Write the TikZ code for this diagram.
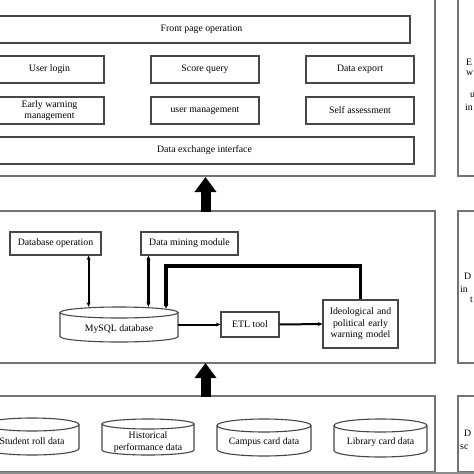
\documentclass[tikz,border=0pt]{standalone}
\usepackage{fontspec}
\setmainfont{Liberation Serif}
\usetikzlibrary{arrows.meta}
\newcommand\dfont{\fontsize{9.8}{11.5}\selectfont}
\newcommand\dbcyl[5]{% cx, ytop, ybot, rx, ry
  \draw[cylline] (#1-#4, #2+#5) -- (#1-#4, #3-#5) arc[start angle=180,end angle=360,x radius=#4pt,y radius=#5pt] -- (#1+#4, #2+#5);
  \draw[cylline] (#1, #2+#5) ellipse [x radius=#4pt, y radius=#5pt];
}
\begin{document}
\begin{tikzpicture}[x=1pt,y=-1pt,
  frame/.style={draw=black!55, line width=1.4pt, minimum width=0pt, minimum height=0pt},
  box/.style={draw=black!72, line width=1.2pt, inner sep=1pt, align=center, font=\dfont},
  cylline/.style={draw=black!72, line width=1.1pt},
  txt/.style={font=\dfont, inner sep=0pt, align=center},
  ghost/.style={inner sep=0pt},
  dbl/.style={line width=2.2pt, {Stealth[length=4.5pt,width=4pt]}-{Stealth[length=4.5pt,width=4pt]}},
  arr/.style={line width=2pt, -{Stealth[length=4.5pt,width=4pt]}},
  heavy/.style={line width=3.6pt, line join=miter, -{Stealth[length=4pt,width=4.5pt]}},
  bigarrow/.style={line width=10pt, -{Triangle[length=15pt,width=21pt]}},
  side/.style={font=\dfont, inner sep=0pt, anchor=west}]
\useasboundingbox (0,0) rectangle (474,474);
\clip (0,0) rectangle (474,474);
\fill[white] (0,0) rectangle (474,474);

% ---------- top layer ----------
\node[frame, minimum width=440pt, minimum height=181pt] (topframe) at (215,85.5) {};
\node[box, minimum width=417pt, minimum height=27pt] (front) at (201.5,29.5) {Front page operation};
\node[box, minimum width=109pt, minimum height=27pt] (login) at (49.5,69.5) {User login};
\node[box, minimum width=108pt, minimum height=27pt] (score) at (205,69.5) {Score query};
\node[box, minimum width=108pt, minimum height=27pt] (export) at (360,69.5) {Data export};
\node[box, minimum width=109pt, minimum height=27pt] (early) at (49.5,110.5) {Early warning\\management};
\node[box, minimum width=108pt, minimum height=27pt] (umgmt) at (205,110.5) {user management};
\node[box, minimum width=108pt, minimum height=27pt] (self) at (360,110.5) {Self assessment};
\node[box, minimum width=419pt, minimum height=27pt] (dx) at (204.5,150.5) {Data exchange interface};

% ---------- middle layer ----------
\node[frame, minimum width=440pt, minimum height=152pt] (midframe) at (215,287) {};
\node[box, minimum width=91pt, minimum height=23pt] (dbop) at (55.5,243.5) {Database operation};
\node[box, minimum width=97pt, minimum height=23pt] (dmm) at (189.5,243.5) {Data mining module};
\dbcyl{119}{307}{342}{59}{5.5}
\node[ghost, minimum width=118pt, minimum height=35pt] (mysql) at (119,324.5) {};
\node[txt] (mysqltxt) at (119,329) {MySQL database};
\node[box, minimum width=58pt, minimum height=25pt] (etl) at (250,324.5) {ETL tool};
\node[box, minimum width=75pt, minimum height=48pt, text width=66pt] (ideo) at (360.5,324) {Ideological and political early warning model};

\coordinate (a1) at ([xshift=-13pt]dbop.south east);
\coordinate (a2) at ([xshift=8pt]dmm.south west);
\coordinate (bend) at (166,266);
\draw[dbl] (a1) -- (a1 |- mysql.north);
\draw[dbl] (a2) -- (a2 |- mysql.north);
\draw[heavy] (ideo.north) |- (bend) -- ([yshift=-1.5pt]bend |- mysql.north);
\draw[arr] (mysql.east) -- (etl.west);
\draw[arr] (etl.east) -- (ideo.west);

% ---------- bottom layer ----------
\node[frame, minimum width=440pt, minimum height=76pt] (botframe) at (215,434) {};
\dbcyl{32}{418}{455}{47}{6.5}
\node[txt] (student) at (32,441) {Student roll data};
\dbcyl{148}{419}{455}{46}{5}
\node[txt] (hist) at (148,442) {Historical\\performance data};
\dbcyl{264}{419}{456}{47}{6.5}
\node[txt] (campus) at (264,442) {Campus card data};
\dbcyl{380.5}{419}{457}{46.5}{6.5}
\node[txt] (library) at (380.5,442) {Library card data};

% ---------- big arrows ----------
\coordinate (b1s) at (205.5,212);
\coordinate (b1e) at (205.5,177);
\coordinate (b2s) at (205.5,397);
\coordinate (b2e) at (205.5,363);
\draw[bigarrow] (b1s) -- (b1e);
\draw[bigarrow] (b2s) -- (b2e);

% ---------- right panels ----------
\node[frame, minimum width=40pt, minimum height=181pt] (rtop) at (478,85.5) {};
\node[frame, minimum width=40pt, minimum height=152pt] (rmid) at (478,287) {};
\node[frame, minimum width=40pt, minimum height=76pt] (rbot) at (478,434) {};
\fill[black!45] (0,471.5) rectangle (474,474);
\node[side] (t1) at (466,62) {E};
\node[side] (t2) at (466,73) {w};
\node[side] (t3) at (470,95) {u};
\node[side] (t4) at (465,107) {in};
\node[side] (m1) at (464,276) {D};
\node[side] (m2) at (460,289) {in};
\node[side] (m3) at (470,300) {t};
\node[side] (d1) at (464,433) {D};
\node[side] (d2) at (460,447) {sc};
\end{tikzpicture}
\end{document}
